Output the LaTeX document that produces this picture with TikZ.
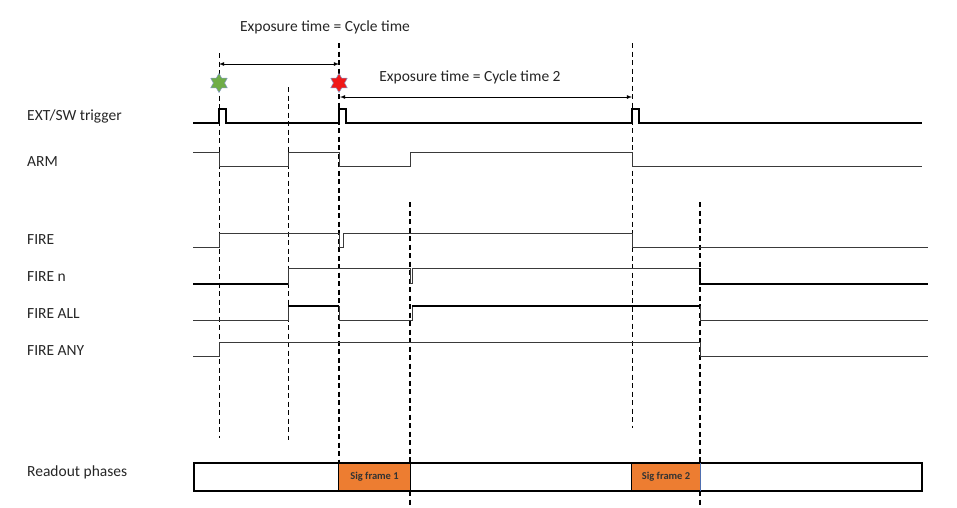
\documentclass[tikz,border=0pt]{standalone}
\usepackage{fontspec}
\setmainfont{Carlito}
\usepackage[dvipsnames]{xcolor}
\usetikzlibrary{arrows,shapes.geometric}

\definecolor{sigline}{HTML}{3A3A3A}
\definecolor{frameorange}{HTML}{ED7D31}
\definecolor{frameblue}{HTML}{4F6FB0}
\definecolor{stargreen}{HTML}{6FAD47}
\definecolor{starred}{HTML}{F01818}

\tikzset{
    siglabel/.style={anchor=west, inner sep=0pt, font=\fontsize{15.5}{18}\selectfont, text=black!85},
    wave/.style={line width=0.8pt, draw=sigline},
    thickwave/.style={line width=1.3pt, draw=black},
    thingrid/.style={line width=0.7pt, dash pattern=on 5pt off 3.5pt},
    thickgrid/.style={line width=1.3pt, dash pattern=on 5pt off 3.5pt},
    trigstar/.style={star, star points=6, star point ratio=1.7, minimum size=19pt, inner sep=0pt, draw=frameblue!70, line width=0.5pt},
    framebox/.style={fill=frameorange, font=\fontsize{10.5}{12}\selectfont\bfseries, text=black!80}
}

\begin{document}
\begin{tikzpicture}[x=1pt, y=-1pt]
    \useasboundingbox (0,0) rectangle (957,507);

    % signal names
    \node[siglabel] (lbltrig) at (27,116) {EXT/SW trigger};
    \node[siglabel] (lblarm) at (27,162) {ARM};
    \node[siglabel] (lblfire) at (27,240) {FIRE};
    \node[siglabel] (lblfiren) at (27,277) {FIRE n};
    \node[siglabel] (lblfireall) at (27,314) {FIRE ALL};
    \node[siglabel] (lblfireany) at (27,351) {FIRE ANY};
    \node[siglabel] (lblreadout) at (27,472) {Readout phases};

    % time marks
    \foreach \x/\ya/\yb in {219/53/438, 288/87/440, 632/43/428}
        \draw[thingrid] (\x,\ya) -- (\x,\yb);
    \foreach \x/\ya/\yb in {339/43/463, 410/202/507, 700/202/507}
        \draw[thickgrid] (\x,\ya) -- (\x,\yb);

    % waveforms
    \draw[line width=1.2pt] (193,123) -- (219,123) -- (219,109) -- (226,109) -- (226,123) -- (339,123) -- (339,109) -- (346,109) -- (346,123) -- (632,123) -- (632,109) -- (639,109) -- (639,123) -- (922,123);
    \draw[wave] (193,152) -- (219,152) -- (219,166) -- (288,166) -- (288,152) -- (339,152) -- (339,166) -- (410,166) -- (410,152) -- (632,152) -- (632,166) -- (922,166);
    \draw[wave] (193,247) -- (219,247) -- (219,233) -- (339,233) -- (339,247) -- (343,247) -- (343,233) -- (632,233) -- (632,247) -- (928,247);
    \draw[wave] (193,284) -- (288,284) -- (288,268) -- (410,268) -- (410,283) -- (412,283) -- (412,268) -- (700,268) -- (700,284) -- (928,284);
    \draw[thickwave] (193,284) -- (288,284);
    \draw[thickwave] (700,268) -- (700,284) -- (928,284);
    \draw[wave] (193,320) -- (288,320) -- (288,306) -- (339,306) -- (339,320) -- (412,320) -- (412,306) -- (700,306) -- (700,320) -- (928,320);
    \draw[thickwave] (288,306) -- (339,306);
    \draw[thickwave] (412,306) -- (700,306);
    \draw[wave] (193,356) -- (219,356) -- (219,342) -- (700,342) -- (700,356) -- (928,356);

    % triggers
    \node[trigstar, fill=stargreen] (startgreen) at (219,83) {};
    \node[trigstar, fill=starred] (startred) at (339,83) {};

    % exposure arrows
    \coordinate (exp1a) at (219,64);
    \coordinate (exp1b) at (339,64);
    \coordinate (exp2a) at (340,97);
    \coordinate (exp2b) at (632,97);
    \draw[latex-latex, line width=0.8pt] (exp1a) -- (exp1b);
    \draw[latex-latex, line width=0.8pt] (exp2a) -- (exp2b);
    \node[siglabel, anchor=center] (lblexp1) at (325,27) {Exposure time = Cycle time};
    \node[siglabel, anchor=center] (lblexp2) at (470,77) {Exposure time = Cycle time 2};

    % readout phases
    \node[framebox, minimum width=71pt, minimum height=28pt, inner sep=0pt] (sig1) at (374.5,477) {Sig frame 1};
    \node[framebox, minimum width=68pt, minimum height=28pt, inner sep=0pt] (sig2) at (666,477) {Sig frame 2};
    \draw[frameblue, line width=0.8pt] (sig1.south west) -- (sig1.south east);
    \draw[frameblue, line width=0.8pt] (sig2.south west) -- (sig2.south east);
    \draw[line width=1.2pt] (194,463) rectangle (922,491);
    \draw[line width=1pt] (sig1.north west) -- (sig1.south west);
    \draw[line width=1pt] (sig1.north east) -- (sig1.south east);
    \draw[line width=1pt] (sig2.north west) -- (sig2.south west);
    \draw[frameblue, line width=1pt] (sig2.north east) -- (sig2.south east);

\end{tikzpicture}
\end{document}
